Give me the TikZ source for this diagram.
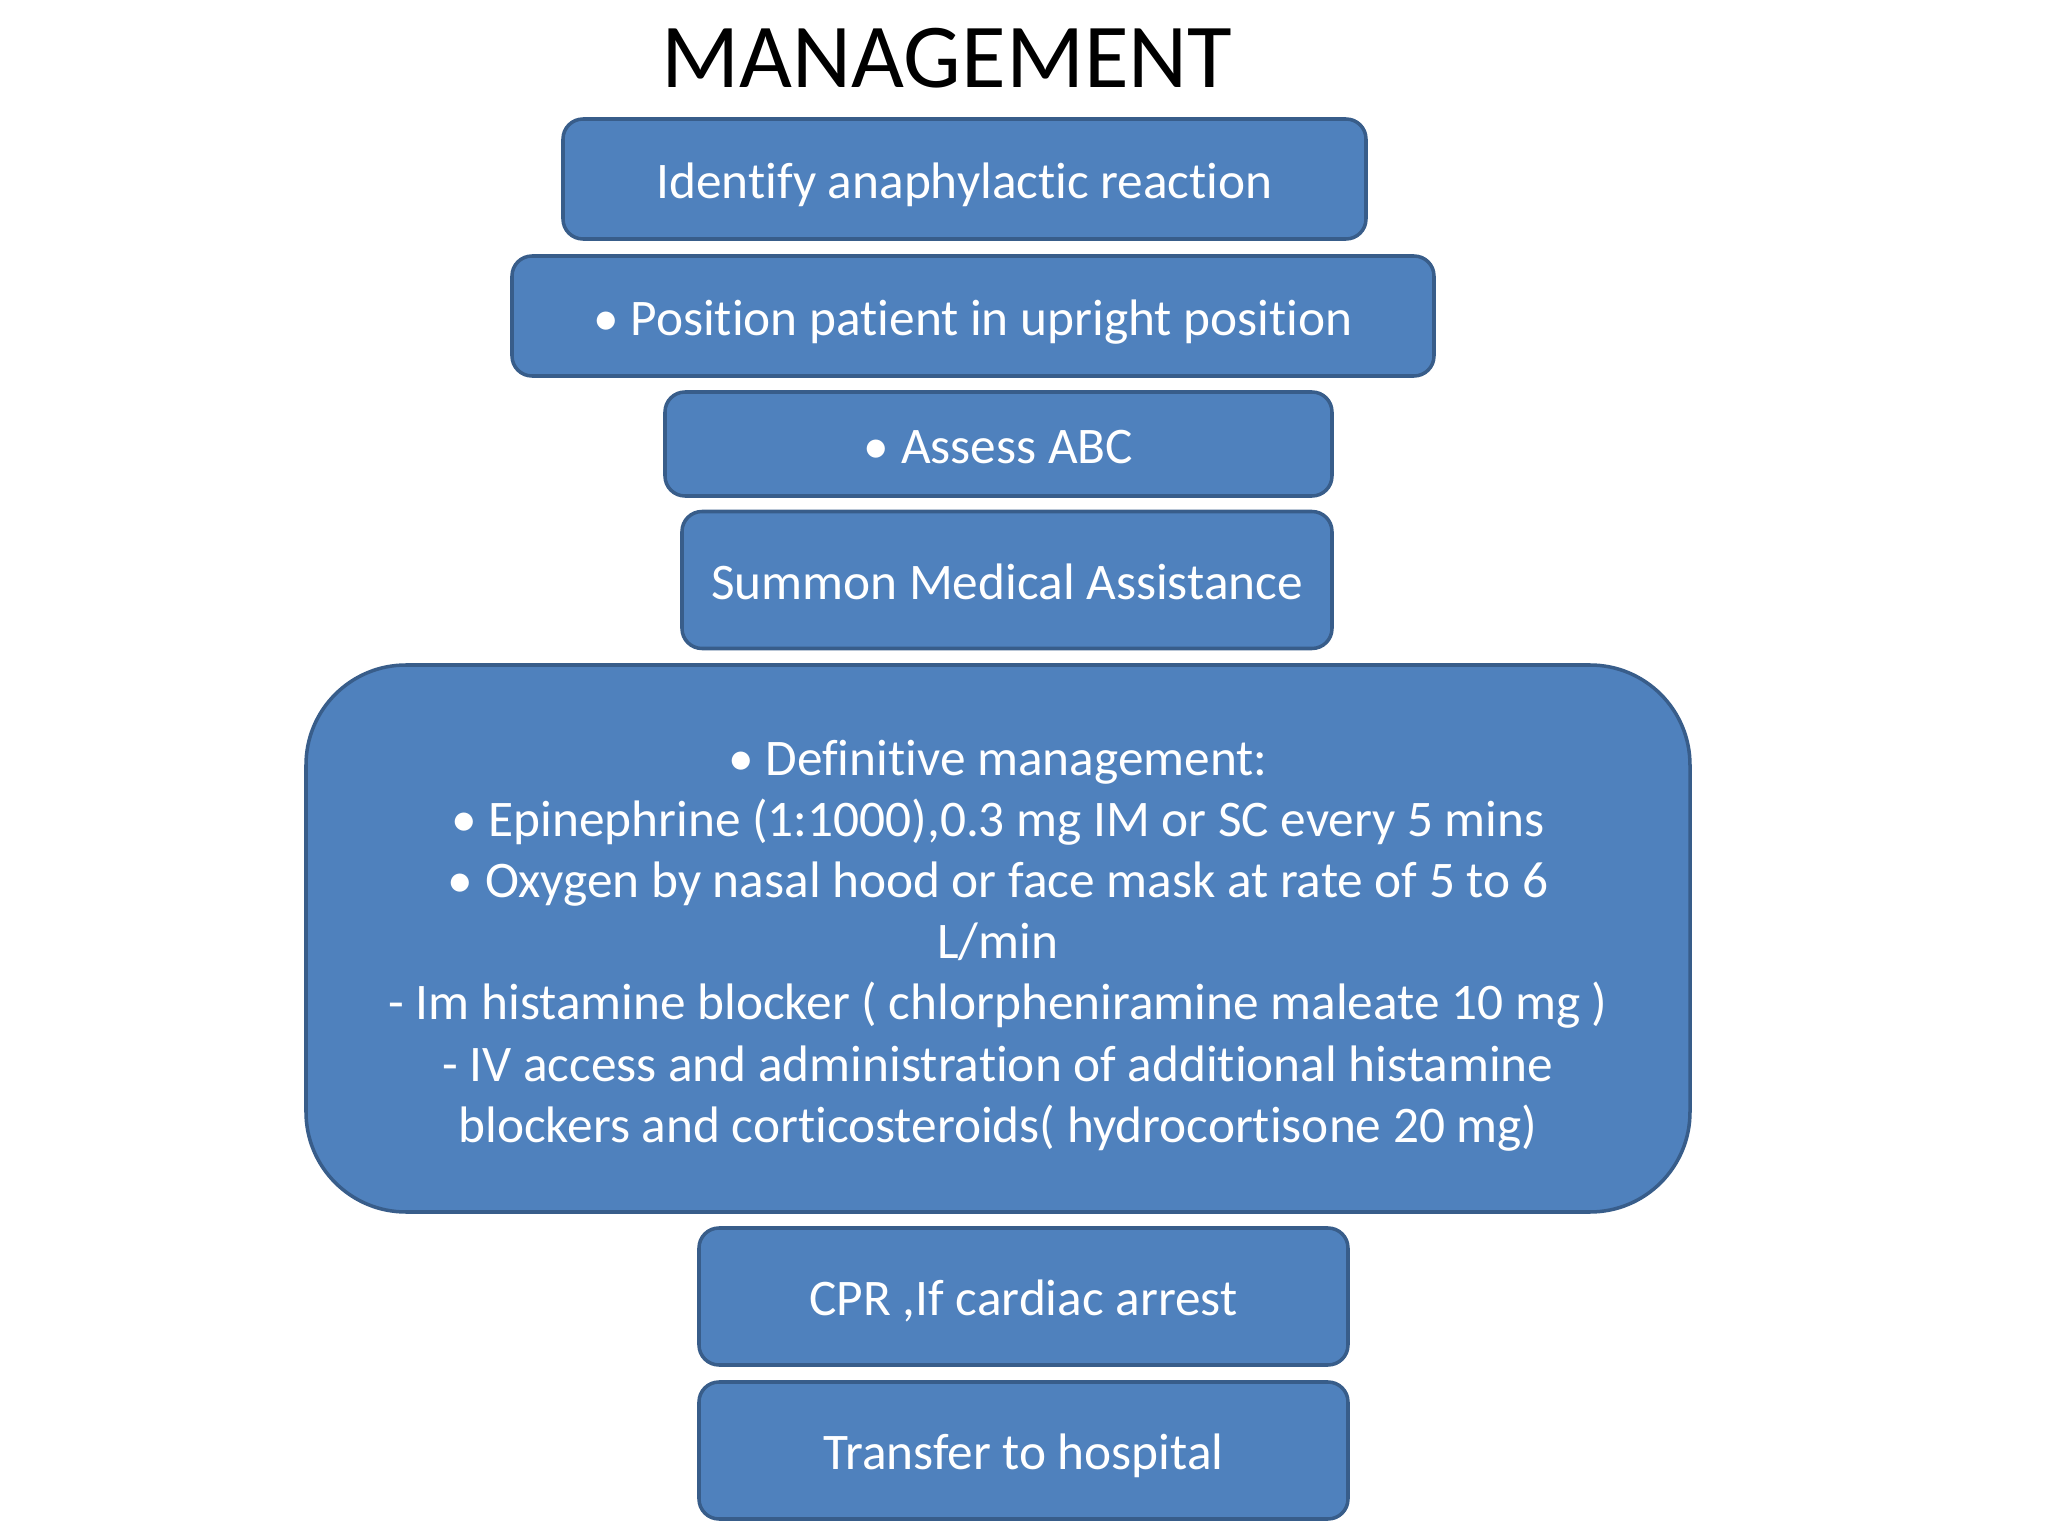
\documentclass[tikz,border=0pt]{standalone}
\usepackage{fontspec}
\setmainfont{Carlito}[Ligatures=NoCommon]
\usepackage{tikz}
\usetikzlibrary{positioning}
\definecolor{boxfill}{HTML}{4F81BD}
\definecolor{boxline}{HTML}{385D8A}
\tikzset{mgmtbox/.style={draw=boxline, fill=boxfill, line width=1pt, rounded corners=0.2cm,
    text=white, font=\fontsize{14.6}{17.4}\selectfont, inner sep=0pt}}
\tikzset{linebox/.style={mgmtbox, text height=14pt, text depth=3.1pt}}
\tikzset{bigbox/.style={mgmtbox, rounded corners=1cm, align=center}}

\begin{document}
\begin{tikzpicture}
\useasboundingbox (0, 0) rectangle (20.48, -15.36);
\node[anchor=base, font=\fontsize{26}{30}\selectfont] (title) at (9.47, -0.875) {MANAGEMENT};
\node[linebox, minimum width=8.03cm, minimum height=1.2cm] (identify) at (9.645, -1.79) {Identify anaphylactic reaction};
\node[linebox, minimum width=9.22cm, minimum height=1.2cm] (position) at (9.73, -3.16) {• Position patient in upright position};
\node[linebox, minimum width=6.67cm, minimum height=1.04cm] (assess) at (9.985, -4.44) {• Assess ABC};
\node[linebox, minimum width=6.5cm, minimum height=1.37cm] (summon) at (10.07, -5.80) {Summon Medical Assistance};
\node[bigbox, minimum width=13.84cm, minimum height=5.47cm] (definitive) at (9.98, -9.385) {%
\rule{0pt}{14pt}• Definitive management:\\
• Epinephrine (1:1000),0.3 mg IM or SC every 5 mins\\
• Oxygen by nasal hood or face mask at rate of 5 to 6\\
L/min\\
- Im histamine blocker ( chlorpheniramine maleate 10 mg )\\
- IV access and administration of additional histamine\\
blockers and corticosteroids( hydrocortisone 20 mg)};
\node[linebox, minimum width=6.49cm, minimum height=1.37cm] (cpr) at (10.235, -12.965) {CPR ,If cardiac arrest};
\node[linebox, minimum width=6.49cm, minimum height=1.37cm] (transfer) at (10.235, -14.505) {Transfer to hospital};
\end{tikzpicture}
\end{document}
